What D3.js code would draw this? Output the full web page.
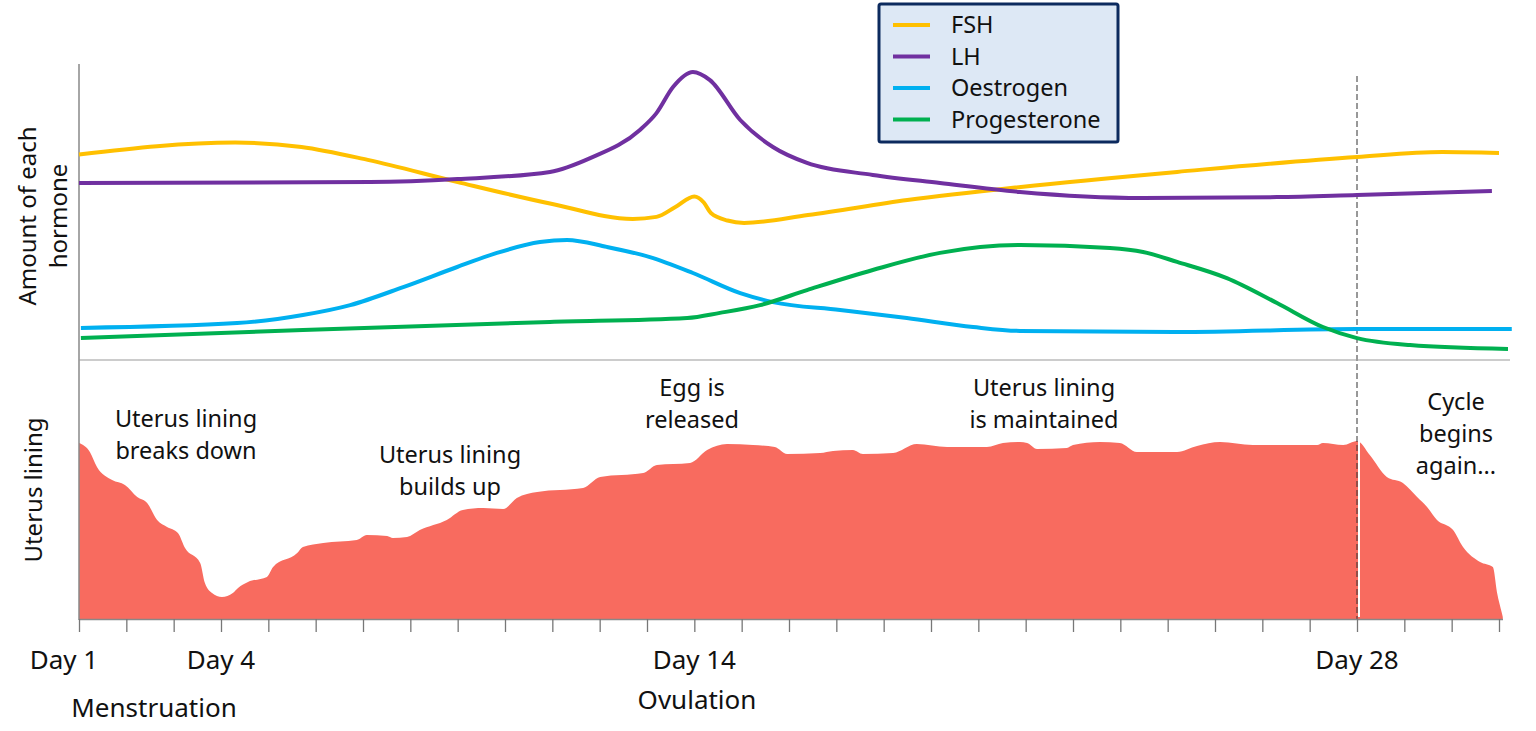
<!DOCTYPE html>
<html>
<head>
<meta charset="utf-8">
<script src="https://cdn.jsdelivr.net/npm/d3@7"></script>
<style>
  body { margin: 0; background: #fff; }
  text { font-family: "Noto Sans", sans-serif; fill: #111; }
</style>
</head>
<body>
<script>
// hormone levels and uterus lining over the menstrual cycle

var width = 1536, height = 731;

// hormone curves (day of cycle, relative amount 0-100)
var fshDays = [1, 4.3, 5.7, 7.1, 9, 11, 12.7, 13.2, 13.6, 14, 14.2, 14.35, 14.7, 15.05, 16.4, 18.5, 20.9, 24.2, 28, 29.8, 31];
var fshVals = [68.5, 72.5, 71, 66.7, 59.3, 52, 47, 47.7, 51, 54.5, 52.5, 49, 46.5, 45.7, 48.3, 53.3, 57.7, 62.7, 67.7, 69.3, 69];

var lhDays = [1, 7.15, 9, 10.95, 11.8, 12.85, 13.2, 13.55, 13.97, 14.33, 14.97, 15.66, 16.38, 17.77, 19.19, 20.88, 23.48, 26.31, 28, 30.85];
var lhVals = [59, 59.3, 60.3, 62.7, 67.3, 76.7, 82.3, 91, 96, 93.3, 80, 71, 65.7, 61.7, 59, 56, 54, 54.3, 55, 56.3];

var oesDays = [1.04, 4.34, 5.73, 6.73, 7.85, 8.99, 9.83, 10.74, 11.31, 12.15, 13.06, 13.97, 14.97, 15.66, 17.08, 18.49, 19.89, 20.88, 24.2, 28, 31.27];
var oesVals = [10.7, 12.3, 15, 18.3, 24.3, 31, 35.7, 39.3, 40, 37.7, 34.3, 29, 22.3, 19.3, 16.7, 14, 11, 9.7, 9.3, 10.3, 10.3];

var proDays = [1.04, 5.73, 10.95, 13.85, 14.54, 15.39, 16.38, 17.77, 19.19, 20.88, 22.78, 23.48, 24.2, 25.25, 26.31, 27.28, 28, 29.12, 31.19];
var proVals = [7.3, 10, 12.7, 14, 15.7, 18.3, 23.3, 30, 35.7, 38.3, 37.3, 36, 32.7, 27.3, 19, 11, 7.3, 5, 3.7];

// uterus lining thickness (0-100)
var liningDays = [1, 1.23, 1.38, 1.7, 1.97, 2.23, 2.44, 2.65, 2.86, 3.09, 3.24, 3.56, 3.66, 3.81, 4.02, 4.25, 4.36, 4.57, 4.97, 5.1,
  5.61, 5.73, 6.16, 6.87, 7.08, 7.51, 7.63, 7.93, 8.2, 8.77, 9.11, 9.54, 9.96, 10.25, 10.68, 11.65, 12.01, 12.92, 13.21, 13.91,
  14.27, 14.69, 15.24, 15.7, 15.96, 16.66, 16.93, 17.35, 17.56, 18.2, 18.7, 19.34, 20.18, 20.52, 20.88, 21.03, 21.24, 21.87, 22,
  22.57, 22.99, 23.35, 24.2, 24.62, 25.11, 25.8, 27.16, 27.28, 27.71, 28, 28.27, 28.63, 28.97, 29.27, 29.48, 29.69, 30.03, 30.24,
  30.6, 30.87, 30.96, 31.06, 31.08];
var liningVals = [88, 83.5, 76, 69.5, 67, 61, 58, 49.5, 46, 43, 35.5, 28, 18, 13, 11, 13, 15.5, 18.5, 21, 26,
  33, 36, 38, 39.5, 42, 41.5, 40.5, 41, 44.5, 49.5, 54.5, 55.5, 55, 60.5, 63.5, 65.5, 71, 73, 77, 78,
  84.5, 87.5, 87, 86, 82.5, 83, 84, 84.5, 82.5, 83, 87.5, 86, 86, 88, 88.5, 88, 85, 85.5, 87,
  88.5, 88, 83.5, 83.5, 86.5, 88.5, 87, 87, 88, 87, 89, 82, 71, 68, 61, 56, 49.5, 44.5, 36,
  28.5, 26, 13, 3, 1];

var tickDays = d3.range(1, 32);
var dayLabels = [{day: 1, text: "Day 1", dx: -15}, {day: 4, text: "Day 4", dx: 0}, {day: 14, text: "Day 14", dx: 0}, {day: 28, text: "Day 28", dx: 0}];

var hormones = [
  {name: "FSH", color: "#ffc000", days: fshDays, vals: fshVals},
  {name: "LH", color: "#7030a0", days: lhDays, vals: lhVals},
  {name: "Oestrogen", color: "#00b0f0", days: oesDays, vals: oesVals},
  {name: "Progesterone", color: "#00b050", days: proDays, vals: proVals}
];

var x = d3.scaleLinear().domain([1, 31]).range([79, 1499]);
var yHormone = d3.scaleLinear().domain([0, 100]).range([360, 60]);
var yLining = d3.scaleLinear().domain([0, 100]).range([619, 419]);

var svg = d3.select("body").append("svg")
    .attr("width", width)
    .attr("height", height);

// uterus lining area
var liningData = liningDays.map(function(d, i) { return {day: d, v: liningVals[i]}; });
svg.append("path")
    .datum(liningData)
    .attr("fill", "#f86b5f")
    .attr("d", d3.area()
      .x(function(d) { return x(d.day); })
      .y0(yLining(0))
      .y1(function(d) { return yLining(d.v); })
      .curve(d3.curveMonotoneX));

// day 28 marker
svg.append("line")
    .attr("x1", x(28) + 2).attr("x2", x(28) + 2)
    .attr("y1", 430).attr("y2", 617)
    .attr("stroke", "#fff").attr("stroke-width", 2);
svg.append("line")
    .attr("x1", x(28)).attr("x2", x(28))
    .attr("y1", 76).attr("y2", 619)
    .attr("stroke", "#333").attr("stroke-width", 1)
    .attr("stroke-dasharray", "6,3");

// axes
svg.append("line")
    .attr("x1", 79).attr("x2", 79).attr("y1", 64).attr("y2", 620)
    .attr("stroke", "#888").attr("stroke-width", 1.5);
svg.append("line")
    .attr("x1", 79).attr("x2", 1510).attr("y1", 360).attr("y2", 360)
    .attr("stroke", "#999").attr("stroke-width", 1);

var xAxis = svg.append("g")
    .attr("transform", "translate(0," + yLining(0) + ")")
    .call(d3.axisBottom(x).tickValues(tickDays).tickSize(13).tickFormat(""));
xAxis.select(".domain").attr("stroke", "#888").attr("stroke-width", 1.5).attr("d", "M79,0.5H1503");
xAxis.selectAll(".tick line").attr("stroke", "#777").attr("stroke-width", 1.3);

// hormone lines
var line = d3.line()
    .x(function(d) { return x(d.day); })
    .y(function(d) { return yHormone(d.v); })
    .curve(d3.curveMonotoneX);

svg.selectAll(".hormone")
  .data(hormones)
  .enter().append("path")
    .attr("class", "hormone")
    .attr("fill", "none")
    .attr("stroke", function(d) { return d.color; })
    .attr("stroke-width", 4)
    .attr("d", function(d) {
      return line(d.days.map(function(day, i) { return {day: day, v: d.vals[i]}; }));
    });

// day labels
svg.selectAll(".daylabel")
  .data(dayLabels)
  .enter().append("text")
    .attr("x", function(d) { return x(d.day) + d.dx; })
    .attr("y", 669)
    .attr("text-anchor", "middle")
    .style("font-size", "26px")
    .text(function(d) { return d.text; });

svg.append("text").attr("x", 154).attr("y", 717).attr("text-anchor", "middle")
    .style("font-size", "26px").text("Menstruation");
svg.append("text").attr("x", 697).attr("y", 709).attr("text-anchor", "middle")
    .style("font-size", "26px").text("Ovulation");

// y axis titles
svg.append("text")
    .attr("transform", "translate(36,216) rotate(-90)")
    .attr("text-anchor", "middle")
    .style("font-size", "24px")
    .text("Amount of each");
svg.append("text")
    .attr("transform", "translate(67,216) rotate(-90)")
    .attr("text-anchor", "middle")
    .style("font-size", "24px")
    .text("hormone");
svg.append("text")
    .attr("transform", "translate(42,490) rotate(-90)")
    .attr("text-anchor", "middle")
    .style("font-size", "24px")
    .text("Uterus lining");

// annotations
var notes = [
  {x: 186, y: 427, lines: ["Uterus lining", "breaks down"]},
  {x: 450, y: 463, lines: ["Uterus lining", "builds up"]},
  {x: 692, y: 396, lines: ["Egg is", "released"]},
  {x: 1044, y: 396, lines: ["Uterus lining", "is maintained"]},
  {x: 1456, y: 410, lines: ["Cycle", "begins", "again..."]}
];
notes.forEach(function(n) {
  var t = svg.append("text")
      .attr("text-anchor", "middle")
      .style("font-size", "23.5px");
  n.lines.forEach(function(l, i) {
    t.append("tspan").attr("x", n.x).attr("y", n.y + i * 32).text(l);
  });
});

// legend
var legend = svg.append("g").attr("transform", "translate(879,4)");
legend.append("rect")
    .attr("width", 239).attr("height", 138).attr("rx", 2)
    .attr("fill", "#dde8f5")
    .attr("stroke", "#0c2a5e").attr("stroke-width", 3);
var item = legend.selectAll(".item")
  .data(hormones)
  .enter().append("g")
    .attr("transform", function(d, i) { return "translate(0," + (21 + i * 31.5) + ")"; });
item.append("line")
    .attr("x1", 14).attr("x2", 51)
    .attr("stroke", function(d) { return d.color; })
    .attr("stroke-width", 4);
item.append("text")
    .attr("x", 72).attr("y", 8)
    .style("font-size", "23.5px")
    .text(function(d) { return d.name; });
</script>
</body>
</html>
